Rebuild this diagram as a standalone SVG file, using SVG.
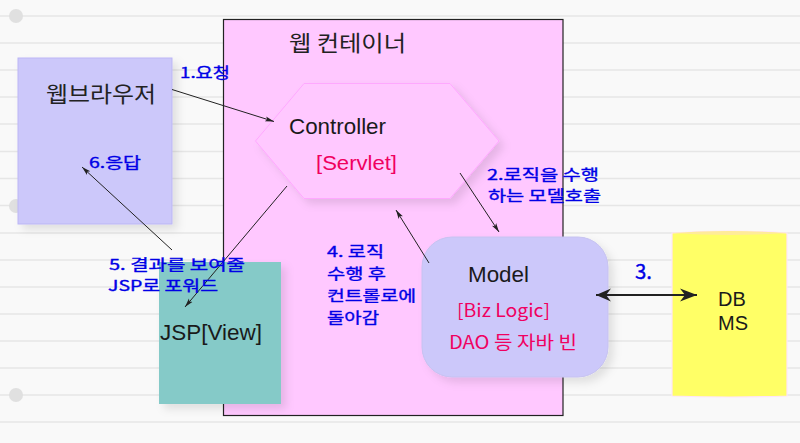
<svg xmlns="http://www.w3.org/2000/svg" width="800" height="443" viewBox="0 0 800 443">
<style>
.rule{stroke:#e6e6e6;stroke-width:1.5;fill:none}
.dot{fill:#e0e0e0}
.lbl{font-family:"Noto Sans CJK KR","Liberation Sans",sans-serif;font-size:14.500px;fill:#0000e6;stroke:#0000e6;stroke-width:.35}
.dark{font-family:"Liberation Sans","Noto Sans CJK KR",sans-serif;font-size:22px;fill:#1a1a1a}
.kr{font-family:"Noto Sans CJK KR",sans-serif;font-size:22px;fill:#222}
.red{font-family:"Liberation Sans","Noto Sans CJK KR",sans-serif;font-size:20px;fill:#f00060}
.red2{font-family:"Noto Sans CJK KR",sans-serif;font-size:18px;fill:#f00060}
.conn{stroke:#222;stroke-width:1;fill:none}
</style>
<defs>
<filter id="sh" x="-15%" y="-15%" width="135%" height="135%"><feDropShadow dx="5" dy="5" stdDeviation="4" flood-color="#000" flood-opacity=".1"/></filter>
<marker id="a" markerWidth="10" markerHeight="8" refX="9" refY="3" orient="auto" markerUnits="userSpaceOnUse"><path d="M0,0.500L9,3L0,5.500L2,3Z" fill="#222"/></marker>
<marker id="b" markerWidth="18" markerHeight="14" refX="17" refY="7" orient="auto" markerUnits="userSpaceOnUse"><path d="M0,0.500L17,7L0,13.500L5,7Z" fill="#222"/></marker>
<marker id="c" markerWidth="18" markerHeight="14" refX="1" refY="7" orient="auto" markerUnits="userSpaceOnUse"><path d="M16,0.500L1,7L16,13.500L11,7Z" fill="#222"/></marker>
</defs>
<rect width="800" height="443" fill="#f9f9f9"/>
<g id="paper">
<path class="rule" d="M0 16H800M0 43H800M0 70H800M0 97H800M0 124H800M0 151.500H800M0 178.500H800M0 205.500H800M0 233H800M0 260H800M0 287H800M0 314H800M0 341H800M0 368H800M0 395H800M0 422H800"/>
<circle class="dot" cx="16" cy="16" r="7"/><circle class="dot" cx="16" cy="206" r="7"/><circle class="dot" cx="16" cy="395" r="7"/>
</g>
<g id="container"><rect x="223.500" y="19.500" width="339.500" height="396" fill="#ffc8ff" stroke="#222" stroke-width="1.200"/>
<text class="kr" x="289" y="51" textLength="117" lengthAdjust="spacingAndGlyphs">웹 컨테이너</text></g>
<g id="browser"><rect x="18" y="58" width="154" height="166" fill="#ccc8fa" stroke="#bbb6f5" filter="url(#sh)"/>
<text class="kr" x="46" y="102" textLength="110" lengthAdjust="spacingAndGlyphs">웹브라우저</text></g>
<g id="controller"><path d="M255.500 141L304 83.500H450L499 141L450 198.500H304Z" fill="#ffc8ff" stroke="#ffa8ff" filter="url(#sh)"/>
<text class="dark" x="289" y="134" textLength="97" lengthAdjust="spacingAndGlyphs">Controller</text>
<text class="red" x="316" y="170" textLength="81" lengthAdjust="spacingAndGlyphs">[Servlet]</text></g>
<g id="jsp"><rect x="159" y="262" width="122" height="142" fill="#85cac8" filter="url(#sh)"/>
<text class="dark" x="160" y="340" textLength="102" lengthAdjust="spacingAndGlyphs">JSP[View]</text></g>
<g id="model"><rect x="422" y="237" width="186" height="140" rx="30" fill="#ccc8fa" stroke="#c6c2f0" filter="url(#sh)"/>
<text class="dark" x="468" y="282" textLength="61" lengthAdjust="spacingAndGlyphs">Model</text>
<text class="red2" x="457" y="317" textLength="93" lengthAdjust="spacingAndGlyphs">[Biz Logic]</text>
<text class="red2" x="449" y="349" textLength="128" lengthAdjust="spacingAndGlyphs">DAO 등 자바 빈</text></g>
<g id="db"><path d="M672 233Q729 229 787 233V396Q729 398 672 396Z" fill="#ffff66" stroke="#ffe4fa" stroke-width="1.200"/>
<path d="M672 233Q729 229 787 233Q729 237 672 233Z" fill="#ffeb99"/>
<text class="dark" x="718" y="306" style="font-size:20px">DB</text>
<text class="dark" x="718" y="330" style="font-size:20px">MS</text></g>
<g id="connectors">
<path class="conn" d="M172 89.500L274 121.500" marker-end="url(#a)"/>
<path class="conn" d="M287 186L185 307" marker-end="url(#a)"/>
<path class="conn" d="M172 250L82 167" marker-end="url(#a)"/>
<path class="conn" d="M460 173L499 232" marker-end="url(#a)"/>
<path class="conn" d="M429 263L396 210" marker-end="url(#a)"/>
<path d="M596 295H697" stroke="#222" stroke-width="2.200" fill="none" marker-start="url(#c)" marker-end="url(#b)"/>
</g>
<g id="labels">
<text class="lbl" x="180" y="78" textLength="50" lengthAdjust="spacingAndGlyphs">1.요청</text>
<text class="lbl" x="89" y="168" textLength="52" lengthAdjust="spacingAndGlyphs">6.응답</text>
<text class="lbl" x="487" y="180" textLength="112" lengthAdjust="spacingAndGlyphs">2.로직을 수행</text>
<text class="lbl" x="488" y="201" textLength="113" lengthAdjust="spacingAndGlyphs">하는 모델호출</text>
<text class="lbl" x="327" y="257" textLength="57" lengthAdjust="spacingAndGlyphs">4. 로직</text>
<text class="lbl" x="327" y="279" textLength="59" lengthAdjust="spacingAndGlyphs">수행 후</text>
<text class="lbl" x="327" y="301" textLength="89" lengthAdjust="spacingAndGlyphs">컨트롤로에</text>
<text class="lbl" x="327" y="323" textLength="52" lengthAdjust="spacingAndGlyphs">돌아감</text>
<text class="lbl" x="109" y="270" textLength="136" lengthAdjust="spacingAndGlyphs">5. 결과를 보여줄</text>
<text class="lbl" x="108" y="291" textLength="110" lengthAdjust="spacingAndGlyphs">JSP로 포워드</text>
<text class="lbl" x="635" y="279" style="font-size:20px" textLength="17" lengthAdjust="spacingAndGlyphs">3.</text>
</g>
</svg>
